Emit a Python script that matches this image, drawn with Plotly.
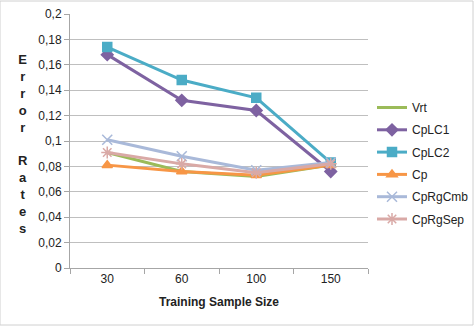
import plotly.graph_objects as go

categories = ["30", "60", "100", "150"]
vrt = [0.091, 0.076, 0.072, 0.081]
cplc1 = [0.168, 0.132, 0.124, 0.076]
cplc2 = [0.174, 0.148, 0.134, 0.083]
cp = [0.081, 0.076, 0.073, 0.081]
cprgcmb = [0.101, 0.088, 0.077, 0.083]
cprgsep = [0.091, 0.082, 0.075, 0.082]

ytick_vals = [0, 0.02, 0.04, 0.06, 0.08, 0.1, 0.12, 0.14, 0.16, 0.18, 0.2]
ytick_text = ["0", "0,02", "0,04", "0,06", "0,08", "0,1", "0,12", "0,14", "0,16", "0,18", "0,2"]

series = [
    ("Vrt", vrt, "#9BBB59", None, 6),
    ("CpLC1", cplc1, "#7E62A1", "diamond", 9),
    ("CpLC2", cplc2, "#4BACC6", "square", 9),
    ("Cp", cp, "#F79646", "triangle-up", 9),
    ("CpRgCmb", cprgcmb, "#A9B9D9", "x-thin-open", 10),
    ("CpRgSep", cprgsep, "#D9A9A6", "asterisk-open", 10),
]

fig = go.Figure()
for i, (name, vals, color, sym, size) in enumerate(series):
    marker = dict(color=color, size=size, line=dict(color=color, width=1.5))
    if sym is None:
        mode = "lines"
    else:
        mode = "lines+markers"
        marker["symbol"] = sym
    fig.add_trace(go.Scatter(
        x=categories, y=vals, name=name, mode=mode,
        line=dict(color=color, width=3), marker=marker,
        legendgroup=str(i),
    ))

font_family = "Liberation Sans, Arial, sans-serif"
fig.update_layout(
    width=474, height=326,
    margin=dict(l=70, r=106, t=14, b=58, autoexpand=False),
    paper_bgcolor="white", plot_bgcolor="white",
    font=dict(family=font_family, size=12, color="#222222"),
    showlegend=True,
    legend=dict(xref="container", yref="container",
                x=372/474, y=1 - 93/326, xanchor="left", yanchor="top",
                font=dict(size=12, color="#222222"), tracegroupgap=3.3,
                itemwidth=30, itemsizing="trace",
                bgcolor="rgba(0,0,0,0)"),
    xaxis=dict(type="category", range=[-0.5, 3.5], showline=True,
               linecolor="#A6A6A6", linewidth=1, ticks="outside",
               tickson="boundaries", tickcolor="#A6A6A6", ticklen=5,
               showgrid=False, tickfont=dict(size=12),
               title=dict(text="<b>Training Sample Size</b>", font=dict(size=12), standoff=12)),
    yaxis=dict(range=[0, 0.2], tickvals=ytick_vals, ticktext=ytick_text,
               showline=True, linecolor="#A6A6A6", linewidth=1,
               ticks="outside", tickcolor="#A6A6A6", ticklen=5,
               showgrid=True, gridcolor="#BFBFBF", gridwidth=1,
               zeroline=False, tickfont=dict(size=12)),
    shapes=[dict(type="rect", xref="paper", yref="paper",
                 x0=-70/298, x1=(298+105)/298, y0=-57/254, y1=(254+13)/254,
                 line=dict(color="#D0D0D0", width=1))],
)

letters = "Error Rates"
ytitle = "<br>".join(c if c != " " else " " for c in letters)
fig.add_annotation(text="<b>" + ytitle + "</b>", xref="paper", yref="paper",
                   x=-47/298, y=(268-143.5)/254, xanchor="center", yanchor="middle",
                   showarrow=False, font=dict(size=13, family=font_family),
                   align="center")

fig.write_html("out.html")
